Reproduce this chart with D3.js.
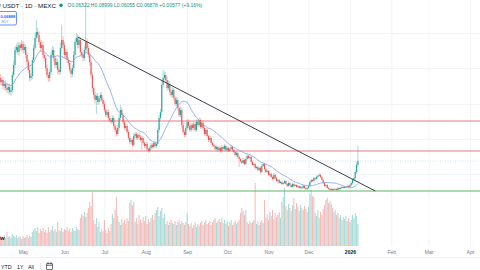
<!DOCTYPE html>
<html>
<head>
<meta charset="utf-8">
<script src="https://cdn.jsdelivr.net/npm/d3@7"></script>
<style>
  html, body { margin: 0; padding: 0; background: #fff; overflow: hidden; }
  svg { display: block; font-family: "Liberation Sans", Arial, sans-serif; }
</style>
</head>
<body>
<script>
// daily candles, prices in 1e-4 USDT, first candle on 2025-04-13
const firstDay = "2025-04-13";
const firstOpen = 1834;
const closes = [
  1862,1806,1834,1749,1777,1721,1692,1735,1664,1692,
  1904,2046,2258,2300,2230,2329,2286,2343,2258,2300,
  2187,2088,1975,1862,1890,2117,2286,2428,2513,2470,
  2371,2286,2329,2187,2145,2003,1904,1862,1947,2187,
  2258,2145,2046,2088,1975,1947,2286,2399,2329,2187,
  2230,2117,2074,1975,1919,2003,2187,2371,2428,2329,
  2399,2230,2187,2145,2258,2371,2286,2187,2088,1904,
  1721,1622,1551,1608,1523,1579,1622,1551,1494,1410,
  1339,1381,1296,1268,1240,1296,1183,1127,1070,1155,
  1296,1410,1339,1240,1155,1183,1099,1014,957,985,
  915,1042,1070,1014,1056,1028,985,1014,943,901,
  929,858,830,872,915,886,943,901,929,1127,
  1296,1381,1763,1862,1904,1834,1721,1777,1664,1622,
  1692,1579,1494,1551,1438,1339,1410,1197,1099,1056,
  1155,1240,1183,1127,1197,1155,1212,1127,1240,1197,
  1268,1169,1226,1155,1070,1127,1042,985,1014,943,
  915,901,858,886,844,872,830,886,858,901,
  844,872,830,858,886,844,816,773,802,745,
  717,688,660,703,646,717,759,731,745,674,
  632,646,590,604,561,590,533,618,646,575,
  533,547,490,505,462,434,490,448,406,420,
  377,391,363,377,406,363,335,377,349,321,
  363,335,349,321,335,307,321,307,335,307,
  292,307,335,391,420,406,448,434,462,476,
  490,462,420,377,335,349,307,292,278,292,
  278,292,292,278,307,292,307,321,307,321,
  321,335,321,349,377,420,448,533,632,688
];
const upperWicks = [
  40,55,35,50,30,45,60,35,50,40,
  45,60,50,40,65,45,35,55,40,50,
  35,45,40,55,30,40,50,70,169,60,
  50,40,65,45,35,40,55,30,45,50,
  60,40,35,50,45,30,80,212,50,40,
  55,35,40,45,30,50,60,45,70,50,
  55,40,45,35,60,566,50,40,45,35,
  40,30,45,35,40,30,35,40,30,35,
  30,40,35,30,25,40,30,25,35,40,
  45,70,40,30,35,25,30,35,25,30,
  25,35,30,25,30,35,25,30,25,30,
  25,30,20,25,30,25,20,30,25,35,
  40,45,60,113,50,45,40,50,35,45,
  40,35,30,40,35,30,40,30,25,35,
  30,40,35,30,25,30,35,25,40,30,
  35,25,30,40,25,30,25,20,30,25,
  20,25,20,25,20,25,20,25,20,25,
  20,25,20,15,25,20,15,20,25,15,
  20,15,20,25,15,20,25,15,20,15,
  20,15,20,15,20,15,20,25,15,20,
  15,20,15,20,15,20,25,15,20,15,
  15,20,15,20,15,10,15,20,15,10,
  15,10,15,10,15,10,15,10,15,10,
  10,15,20,15,20,15,20,15,25,20,
  25,20,15,10,15,10,15,10,10,15,
  10,15,10,10,15,10,15,10,10,15,
  10,15,10,15,20,25,20,30,40,212
];
const lowerWicks = [
  35,45,50,40,55,35,45,50,40,55,
  40,35,50,45,40,55,35,45,50,40,
  45,55,40,50,35,45,40,35,50,45,
  40,55,35,45,50,40,35,55,45,40,
  35,50,40,45,55,40,35,45,50,40,
  45,40,50,35,55,45,40,35,45,50,
  40,45,35,50,40,45,55,40,50,45,
  60,45,50,200,40,35,45,30,40,35,
  30,35,40,30,35,25,40,30,35,30,
  35,30,25,35,30,40,25,30,35,25,
  30,25,35,30,25,40,30,141,25,30,
  25,30,25,20,30,25,20,25,30,25,
  40,35,45,40,35,50,40,35,45,40,
  35,40,30,35,40,30,35,40,30,35,
  30,25,35,30,25,30,35,25,30,25,
  30,25,30,35,25,30,25,30,25,20,
  25,20,25,20,25,20,25,20,25,20,
  20,25,20,15,20,25,15,20,25,20,
  113,20,15,20,25,15,20,15,20,25,
  15,20,25,15,20,15,25,20,15,20,
  15,20,15,20,15,20,15,20,15,20,
  15,10,15,10,15,10,15,10,15,10,
  10,15,10,10,15,10,10,15,10,10,
  15,10,10,15,10,15,10,15,10,15,
  10,15,10,15,10,15,10,10,10,10,
  10,10,10,10,10,10,10,10,10,10,
  10,10,10,15,15,20,20,25,30,26
];
// volume, millions
const volumes = [
  8,10,7,9,11,8,14,9,10,8,
  12,10,9,11,8,10,9,7,10,8,
  9,11,8,10,9,14,16,18,15,19,
  13,17,15,18,14,16,13,19,14,16,
  20,15,17,14,24,16,15,18,14,17,
  16,19,15,17,14,18,16,15,19,17,
  16,28,32,30,34,29,33,38,44,40,
  54,26,22,28,19,24,14,17,15,26,
  16,13,18,15,22,32,28,36,49,30,
  24,21,27,23,26,22,28,25,43,46,
  41,44,24,28,22,31,26,23,29,25,
  30,22,27,24,28,31,26,33,36,39,
  30,35,38,28,32,22,25,21,24,26,
  23,22,25,21,24,26,22,25,23,21,
  24,33,22,20,23,18,21,24,19,22,
  20,23,25,21,24,26,22,23,25,21,
  24,26,28,23,25,27,24,28,23,26,
  22,25,20,24,26,21,23,25,22,24,
  26,33,38,35,31,36,24,22,25,23,
  24,26,63,22,25,21,24,26,23,46,
  28,32,26,34,30,36,27,33,29,31,
  34,28,44,49,58,40,36,42,38,35,
  41,48,37,43,39,35,41,38,36,40,
  37,34,39,52,56,50,49,33,30,36,
  28,34,31,37,41,46,48,43,45,42,
  38,34,36,31,33,28,31,26,29,27,
  30,25,28,24,26,31,28,33,30,22
];

const redLevels = [0.1254, 0.0830];
const greenLevel = 0.0264;
const trendLine = [["2025-06-11", 0.2442], ["2026-01-20", 0.0264]];
const lastBar = [["O", "0.06322"], ["H", "0.08999"], ["L", "0.06055"], ["C", "0.06878"]];
const lastChange = "+0.00577 (+9.16%)";
const lastClose = 0.06878;
const buyPrice = "0.06888";
const rangeButtons = ["YTD", "1Y", "All"];
const maPeriod = 20;

const width = 480, height = 270;
const UP = "#26a69a", DOWN = "#ef5350";

const svg = d3.select("body").append("svg")
  .attr("width", width)
  .attr("height", height);

const parse = d3.utcParse("%Y-%m-%d");
const x = d3.scaleUtc()
  .domain([parse("2025-05-01"), parse("2026-04-01")])
  .range([23, 470]);
const y = d3.scaleLinear().domain([0.0264, 0.2965]).range([191, 0]);
const yVol = d3.scaleLinear().domain([0, 64]).range([246, 182]);

const start = parse(firstDay);
const bars = closes.map(function(c, i) {
  let o = i ? closes[i - 1] : firstOpen;
  return {
    date: d3.utcDay.offset(start, i),
    o: o / 1e4,
    c: c / 1e4,
    h: (Math.max(o, c) + upperWicks[i]) / 1e4,
    l: (Math.min(o, c) - lowerWicks[i]) / 1e4,
    v: volumes[i]
  };
});

// simple moving average of closes
const ma = bars.map(function(b, i) {
  let win = bars.slice(Math.max(0, i - maPeriod + 1), i + 1);
  return {date: b.date, v: d3.mean(win, d => d.c)};
});

// faint grid
const months = x.ticks(d3.utcMonth.every(1));
svg.append("g").selectAll("line").data(months).enter().append("line")
  .attr("x1", d => x(d) + 0.5).attr("x2", d => x(d) + 0.5)
  .attr("y1", 0).attr("y2", 246)
  .attr("stroke", "#f3f4f7").attr("stroke-width", 1);
svg.append("g").selectAll("line").data(y.ticks(6)).enter().append("line")
  .attr("x1", 0).attr("x2", width)
  .attr("y1", d => Math.round(y(d)) + 0.5).attr("y2", d => Math.round(y(d)) + 0.5)
  .attr("stroke", "#f3f4f7").attr("stroke-width", 1);

// volume
svg.append("g").selectAll("rect").data(bars).enter().append("rect")
  .attr("x", d => x(d.date) - 0.5)
  .attr("width", 1)
  .attr("y", d => yVol(d.v))
  .attr("height", d => yVol(0) - yVol(d.v))
  .attr("fill", d => d.c >= d.o ? UP : DOWN)
  .attr("opacity", 0.42);

// last price line
svg.append("line")
  .attr("x1", 0).attr("x2", width)
  .attr("y1", y(lastClose)).attr("y2", y(lastClose))
  .attr("stroke", UP).attr("stroke-opacity", 0.35)
  .attr("stroke-width", 0.7).attr("stroke-dasharray", "1,1.5");

// horizontal levels
svg.append("g").selectAll("line").data(redLevels).enter().append("line")
  .attr("x1", 0).attr("x2", width)
  .attr("y1", d => y(d)).attr("y2", d => y(d))
  .attr("stroke", "#f07a78").attr("stroke-width", 1.1);
svg.append("line")
  .attr("x1", 0).attr("x2", width)
  .attr("y1", y(greenLevel)).attr("y2", y(greenLevel))
  .attr("stroke", "#5cb860").attr("stroke-width", 1.1);

// candles
let candles = svg.append("g").selectAll("g").data(bars).enter().append("g");
candles.append("line")
  .attr("x1", d => x(d.date)).attr("x2", d => x(d.date))
  .attr("y1", d => y(d.h)).attr("y2", d => y(d.l))
  .attr("stroke", d => d.c >= d.o ? UP : DOWN)
  .attr("stroke-width", 0.5)
  .attr("stroke-opacity", 0.8);
candles.append("rect")
  .attr("x", d => x(d.date) - 0.55)
  .attr("width", 1.1)
  .attr("y", d => y(Math.max(d.o, d.c)))
  .attr("height", d => Math.max(0.7, Math.abs(y(d.o) - y(d.c))))
  .attr("fill", d => d.c >= d.o ? UP : DOWN);

// moving average
svg.append("path").datum(ma)
  .attr("fill", "none")
  .attr("stroke", "#7d9ef0")
  .attr("stroke-width", 0.8)
  .attr("d", d3.line().x(d => x(d.date)).y(d => y(d.v)));

// trend line
svg.append("line")
  .attr("x1", x(parse(trendLine[0][0]))).attr("y1", y(trendLine[0][1]))
  .attr("x2", x(parse(trendLine[1][0]))).attr("y2", y(trendLine[1][1]))
  .attr("stroke", "#3d404a").attr("stroke-width", 1);

// legend header
svg.append("text").attr("x", -1).attr("y", 7.5)
  .attr("font-size", 6.2).attr("fill", "#131722")
  .text("/ USDT · 1D · MEXC");
svg.append("circle").attr("cx", 61).attr("cy", 5.3).attr("r", 1.7).attr("fill", "#089981");
let ohlc = svg.append("text").attr("x", 67.5).attr("y", 7.3).attr("font-size", 5);
lastBar.forEach(function(p, i) {
  ohlc.append("tspan").attr("fill", "#5d606b").text((i ? " " : "") + p[0]);
  ohlc.append("tspan").attr("fill", "#089981").text(p[1]);
});
ohlc.append("tspan").attr("fill", "#089981").text(" " + lastChange);

// buy button
svg.append("rect").attr("x", -3).attr("y", 11.5).attr("width", 19.5).attr("height", 13.5)
  .attr("rx", 1.5).attr("fill", "#fff").attr("stroke", "#2962ff").attr("stroke-width", 0.7);
svg.append("text").attr("x", 0.5).attr("y", 17.6)
  .attr("font-size", 4.1).attr("font-weight", "bold").attr("fill", "#2962ff").text(buyPrice);
svg.append("text").attr("x", 1.5).attr("y", 22.8)
  .attr("font-size", 3.4).attr("fill", "#6f8fe8").text("BUY");

svg.append("text").attr("x", 0).attr("y", 240)
  .attr("font-size", 6).attr("font-weight", "bold").attr("fill", "#131722").text("w");

// time axis
let xAxis = svg.append("g").attr("transform", "translate(0,247)")
  .call(d3.axisBottom(x).ticks(d3.utcMonth.every(1)).tickSize(0)
    .tickFormat(d => d.getUTCMonth() === 0 ? d3.utcFormat("%Y")(d) : d3.utcFormat("%b")(d)));
xAxis.select(".domain").remove();
xAxis.selectAll("text")
  .attr("dy", 0).attr("y", 7)
  .attr("font-family", "Liberation Sans, Arial, sans-serif")
  .attr("font-size", 5)
  .attr("fill", d => d.getUTCMonth() === 0 ? "#131722" : "#787b86")
  .attr("font-weight", d => d.getUTCMonth() === 0 ? "bold" : "normal");

svg.append("line").attr("x1", 0).attr("x2", width).attr("y1", 257.5).attr("y2", 257.5)
  .attr("stroke", "#eef0f3");

// bottom toolbar
const btnX = [1, 17, 28];
svg.append("g").selectAll("text").data(rangeButtons).enter().append("text")
  .attr("x", (d, i) => btnX[i]).attr("y", 268.5)
  .attr("font-size", 5.3).attr("fill", "#131722").text(d => d);
svg.append("line").attr("x1", 40.5).attr("x2", 40.5).attr("y1", 263).attr("y2", 269)
  .attr("stroke", "#d1d4dc").attr("stroke-width", 0.6);
let cal = svg.append("g").attr("fill", "none").attr("stroke", "#131722").attr("stroke-width", 0.6);
cal.append("rect").attr("x", 46.5).attr("y", 263.5).attr("width", 6).attr("height", 6).attr("rx", 0.6);
cal.append("line").attr("x1", 48).attr("x2", 48).attr("y1", 262).attr("y2", 264.5);
cal.append("line").attr("x1", 51).attr("x2", 51).attr("y1", 262).attr("y2", 264.5);
cal.append("line").attr("x1", 46.5).attr("x2", 52.5).attr("y1", 265.3).attr("y2", 265.3);
</script>
</body>
</html>
